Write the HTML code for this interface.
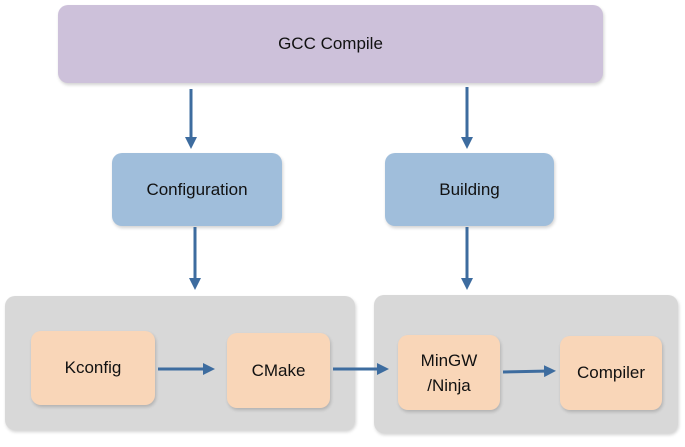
<!DOCTYPE html>
<html><head><meta charset="utf-8"><style>
body{margin:0;width:685px;height:447px;background:#fff;position:relative;overflow:hidden;font-family:"Liberation Sans",sans-serif;color:#111}
.b{position:absolute;display:flex;align-items:center;justify-content:center;text-align:center;font-size:17px;border-radius:10px;box-shadow:1px 2px 3px rgba(0,0,0,.18)}
.p{background:#cdc1da}.bl{background:#a0bedb}.g{background:#d8d8d8}.o{background:#f9d6b8}
svg{position:absolute;left:0;top:0}
</style></head><body>
<div class="b p" style="left:58px;top:5px;width:545px;height:78px">GCC Compile</div>
<div class="b bl" style="left:112px;top:153px;width:170px;height:73px">Configuration</div>
<div class="b bl" style="left:385px;top:153px;width:169px;height:73px">Building</div>
<div class="b g" style="left:5px;top:296px;width:350px;height:134px"></div>
<div class="b g" style="left:374px;top:295px;width:304px;height:138px"></div>
<div class="b o" style="left:31px;top:331px;width:124px;height:74px">Kconfig</div>
<div class="b o" style="left:227px;top:333px;width:103px;height:75px">CMake</div>
<div class="b o" style="left:398px;top:335px;width:102px;height:75px;line-height:25px">MinGW<br>/Ninja</div>
<div class="b o" style="left:560px;top:336px;width:102px;height:74px">Compiler</div>
<svg width="685" height="447">
<defs><marker id="a" markerWidth="4" markerHeight="4" refX="2" refY="2" orient="auto" markerUnits="strokeWidth"><path d="M0,0L4,2L0,4z" fill="#3d6c9f"/></marker></defs>
<g stroke="#3d6c9f" stroke-width="3" fill="none" marker-end="url(#a)">
<line x1="191" y1="89" x2="191" y2="143"/>
<line x1="467" y1="87" x2="467" y2="143"/>
<line x1="195" y1="227" x2="195" y2="284"/>
<line x1="467" y1="227" x2="467" y2="284"/>
<line x1="158" y1="369" x2="209" y2="369"/>
<line x1="333" y1="369" x2="383" y2="369"/>
<line x1="503" y1="372" x2="550" y2="371"/>
</g></svg>
</body></html>
